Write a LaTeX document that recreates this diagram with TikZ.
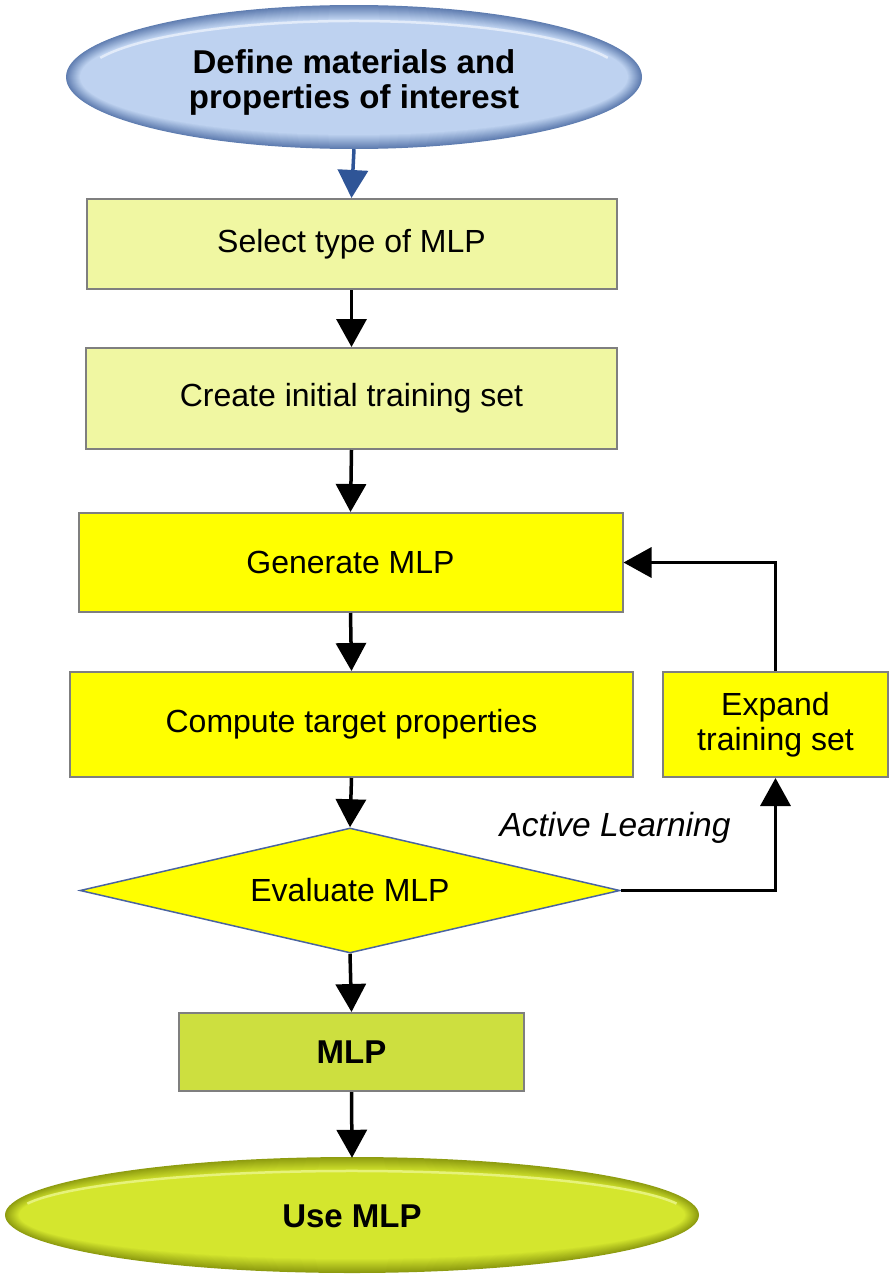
\documentclass[tikz,border=0pt]{standalone}
\usepackage{fontspec}
\setmainfont{Liberation Sans}
\usetikzlibrary{shapes.geometric,arrows.meta}
\definecolor{topfill}{HTML}{BED2F0}
\definecolor{topedge}{HTML}{5F7DB0}
\definecolor{tophi}{HTML}{E2EBF9}
\definecolor{lightbox}{HTML}{F0F7A2}
\definecolor{ybox}{HTML}{FFFF00}
\definecolor{mlpbox}{HTML}{CDDF3F}
\definecolor{botfill}{HTML}{D4E62E}
\definecolor{botedge}{HTML}{8E9C10}
\definecolor{bothi}{HTML}{E6F27A}
\definecolor{boxedge}{HTML}{7F7F7F}
\definecolor{diaedge}{HTML}{4A64A0}
\definecolor{bluearrow}{HTML}{2F5597}
\tikzset{
  txt/.style={font=\fontsize{32}{35}\selectfont, align=center, text=black},
  boldtxt/.style={font=\fontsize{33}{35}\bfseries\selectfont, align=center, text=black},
  procbox/.style={rectangle, draw=boxedge, line width=2pt, inner sep=0pt, txt},
  flow/.style={-{Triangle[width=30pt,length=28pt]}, line width=3.5pt, black},
}
\begin{document}
\begin{tikzpicture}[x=1pt,y=-1pt]
\useasboundingbox (0,0) rectangle (892,1277);
% top ellipse bevel
\foreach \i in {0,...,14}{
  \pgfmathsetmacro\p{100*\i/14}
  \fill[fill=topfill!\p!topedge] (354,77) ellipse [x radius={288-\i}, y radius={72-\i}];
}
\draw[tophi, line width=2.5pt] (100.3,57.85) arc[start angle=-160, end angle=-20, x radius=270, y radius=56];
\node[ellipse, minimum width=576, minimum height=134, inner sep=0pt, boldtxt] (top) at (354,82) {Define materials and\\properties of interest};

\node[procbox, fill=lightbox, minimum width=530, minimum height=90] (b1) at (351.5,244) {Select type of MLP};
\node[procbox, fill=lightbox, minimum width=531, minimum height=101] (b2) at (351.5,398.5) {Create initial training set};
\node[procbox, fill=ybox, minimum width=544, minimum height=99] (b3) at (350.5,562.5) {Generate MLP};
\node[procbox, fill=ybox, minimum width=563, minimum height=105] (b4) at (351.5,724.5) {Compute target properties};
\node[procbox, fill=ybox, minimum width=225, minimum height=105] (ex) at (775.5,724.5) {Expand\\training set};
\node[diamond, aspect=4.32, fill=ybox, draw=diaedge, line width=1.5pt, minimum width=540, minimum height=125, inner sep=0pt, txt] (ev) at (350,890.5) {Evaluate MLP};
\node[txt, font=\fontsize{33.5}{36}\itshape\selectfont] (al) at (615,828) {Active Learning};
\node[procbox, fill=mlpbox, minimum width=345, minimum height=78, boldtxt] (mlp) at (351.5,1052) {MLP};

% bottom ellipse bevel
\foreach \i in {0,...,14}{
  \pgfmathsetmacro\p{100*\i/14}
  \fill[fill=botfill!\p!botedge] (352,1215) ellipse [x radius={347-\i}, y radius={58-\i}];
}
\draw[bothi, line width=2.5pt] (27.4,1203.6) arc[start angle=-165, end angle=-15, x radius=336, y radius=44];
\node[ellipse, minimum width=694, minimum height=116, inner sep=0pt, boldtxt] (use) at (352,1216) {Use MLP};

% connectors
\draw[flow, bluearrow] (top.south) -- (b1.north);
\draw[flow] (b1.south) -- (b2.north);
\draw[flow] (b2.south) -- (b3.north);
\draw[flow] (b3.south) -- (b4.north);
\draw[flow] (b4.south) -- (ev.north);
\draw[flow] (ev.south) -- (mlp.north);
\draw[flow] (mlp.south) -- (use.north);
\draw[flow] (ev.east) -| (ex.south);
\draw[flow] (ex.north) |- (b3.east);
\end{tikzpicture}
\end{document}
